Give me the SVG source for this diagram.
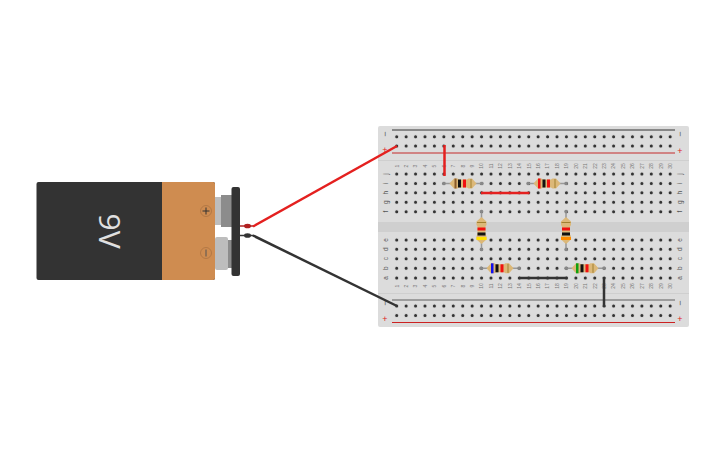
<svg xmlns="http://www.w3.org/2000/svg" width="725" height="453" viewBox="0 0 725 453">
<style>
.holes{stroke:#333;stroke-width:3;stroke-linecap:round;stroke-dasharray:0 9.43;fill:none}
.halo{stroke:#cfcfcf;stroke-width:4.6;stroke-linecap:round;stroke-dasharray:0 9.43;fill:none}
.num{font-family:"Liberation Sans",sans-serif;font-size:5px;fill:#777;text-anchor:middle}
.let{font-family:"Liberation Sans",sans-serif;font-size:6.5px;fill:#555;text-anchor:middle}
.sign{font-family:"Liberation Sans",sans-serif;font-size:9px;text-anchor:middle}
.lead{stroke:#999;stroke-width:1.5;fill:none}
.wr{stroke:#e4201f;stroke-width:2.5;fill:none}
.wk{stroke:#333;stroke-width:2.5;fill:none}
</style>
<defs>
<g id="body">
<line class="lead" x1="-19" y1="0" x2="19" y2="0"/>
<circle cx="-19" cy="0" r="1.7" fill="#888"/><circle cx="19" cy="0" r="1.7" fill="#888"/>
<path d="M-13.500 0L-9 -5H-5.500L-4 -4H4L5.500 -5H9L13.500 0L9 5H5.500L4 4H-4L-5.500 5H-9Z" fill="#dcb878"/>
</g>
<g id="row">
<line class="halo" x1="396.7" y1="0" x2="670.3" y2="0"/>
<line class="holes" x1="396.7" y1="0" x2="670.3" y2="0"/>
</g>
</defs>
<rect width="725" height="453" fill="#fff"/>

<g id="breadboard">
<rect x="378" y="126" width="311" height="201" rx="2" fill="#dcdcdc"/>
<rect x="378" y="222" width="311" height="10" fill="#cfcfcf"/>
<line x1="378" y1="160.5" x2="689" y2="160.5" stroke="#cfcfcf"/>
<line x1="378" y1="293.5" x2="689" y2="293.5" stroke="#cfcfcf"/>
<line x1="392" y1="130" x2="675" y2="130" stroke="#333" stroke-width="1"/>
<line x1="392" y1="153" x2="675" y2="153" stroke="#c66" stroke-width="1.5"/>
<line x1="392" y1="300" x2="675" y2="300" stroke="#888" stroke-width="1.5"/>
<line x1="392" y1="322.5" x2="675" y2="322.5" stroke="#c22" stroke-width="1"/>
<use href="#row" y="136.7"/><use href="#row" y="146"/>
<use href="#row" y="174"/><use href="#row" y="183.5"/><use href="#row" y="192.8"/><use href="#row" y="202.2"/><use href="#row" y="211.7"/>
<use href="#row" y="240"/><use href="#row" y="249.3"/><use href="#row" y="258.7"/><use href="#row" y="268.3"/><use href="#row" y="278"/>
<use href="#row" y="306"/><use href="#row" y="315.5"/>
<text class="sign" transform="translate(388,134) rotate(-90)" fill="#555">−</text>
<text class="sign" x="385" y="153" fill="#d22">+</text>
<text class="sign" transform="translate(683,134) rotate(-90)" fill="#555">−</text>
<text class="sign" x="680" y="154" fill="#d22">+</text>
<text class="sign" transform="translate(388,303) rotate(-90)" fill="#555">−</text>
<text class="sign" x="385" y="322" fill="#d22">+</text>
<text class="sign" transform="translate(683,303) rotate(-90)" fill="#555">−</text>
<text class="sign" x="680" y="322" fill="#d22">+</text>
<g id="letters-left">
<text class="let" transform="translate(388,174) rotate(-90)">j</text>
<text class="let" transform="translate(388,183.5) rotate(-90)">i</text>
<text class="let" transform="translate(388,192.8) rotate(-90)">h</text>
<text class="let" transform="translate(388,202.2) rotate(-90)">g</text>
<text class="let" transform="translate(388,211.7) rotate(-90)">f</text>
<text class="let" transform="translate(388,240) rotate(-90)">e</text>
<text class="let" transform="translate(388,249.3) rotate(-90)">d</text>
<text class="let" transform="translate(388,258.7) rotate(-90)">c</text>
<text class="let" transform="translate(388,268.3) rotate(-90)">b</text>
<text class="let" transform="translate(388,278) rotate(-90)">a</text>
</g>
<g id="letters-right">
<text class="let" transform="translate(682,174) rotate(-90)">j</text>
<text class="let" transform="translate(682,183.5) rotate(-90)">i</text>
<text class="let" transform="translate(682,192.8) rotate(-90)">h</text>
<text class="let" transform="translate(682,202.2) rotate(-90)">g</text>
<text class="let" transform="translate(682,211.7) rotate(-90)">f</text>
<text class="let" transform="translate(682,240) rotate(-90)">e</text>
<text class="let" transform="translate(682,249.3) rotate(-90)">d</text>
<text class="let" transform="translate(682,258.7) rotate(-90)">c</text>
<text class="let" transform="translate(682,268.3) rotate(-90)">b</text>
<text class="let" transform="translate(682,278) rotate(-90)">a</text>
</g>
<g id="numbers-top">
<text class="num" transform="translate(398.5,166) rotate(-90)">1</text>
<text class="num" transform="translate(407.9,166) rotate(-90)">2</text>
<text class="num" transform="translate(417.4,166) rotate(-90)">3</text>
<text class="num" transform="translate(426.8,166) rotate(-90)">4</text>
<text class="num" transform="translate(436.2,166) rotate(-90)">5</text>
<text class="num" transform="translate(445.7,166) rotate(-90)">6</text>
<text class="num" transform="translate(455.1,166) rotate(-90)">7</text>
<text class="num" transform="translate(464.5,166) rotate(-90)">8</text>
<text class="num" transform="translate(474,166) rotate(-90)">9</text>
<text class="num" transform="translate(483.4,166) rotate(-90)">10</text>
<text class="num" transform="translate(492.8,166) rotate(-90)">11</text>
<text class="num" transform="translate(502.2,166) rotate(-90)">12</text>
<text class="num" transform="translate(511.7,166) rotate(-90)">13</text>
<text class="num" transform="translate(521.1,166) rotate(-90)">14</text>
<text class="num" transform="translate(530.5,166) rotate(-90)">15</text>
<text class="num" transform="translate(540,166) rotate(-90)">16</text>
<text class="num" transform="translate(549.4,166) rotate(-90)">17</text>
<text class="num" transform="translate(558.8,166) rotate(-90)">18</text>
<text class="num" transform="translate(568.3,166) rotate(-90)">19</text>
<text class="num" transform="translate(577.7,166) rotate(-90)">20</text>
<text class="num" transform="translate(587.1,166) rotate(-90)">21</text>
<text class="num" transform="translate(596.5,166) rotate(-90)">22</text>
<text class="num" transform="translate(606,166) rotate(-90)">23</text>
<text class="num" transform="translate(615.4,166) rotate(-90)">24</text>
<text class="num" transform="translate(624.8,166) rotate(-90)">25</text>
<text class="num" transform="translate(634.3,166) rotate(-90)">26</text>
<text class="num" transform="translate(643.7,166) rotate(-90)">27</text>
<text class="num" transform="translate(653.1,166) rotate(-90)">28</text>
<text class="num" transform="translate(662.6,166) rotate(-90)">29</text>
<text class="num" transform="translate(672,166) rotate(-90)">30</text>
</g>
<g id="numbers-bottom">
<text class="num" transform="translate(398.5,286) rotate(-90)">1</text>
<text class="num" transform="translate(407.9,286) rotate(-90)">2</text>
<text class="num" transform="translate(417.4,286) rotate(-90)">3</text>
<text class="num" transform="translate(426.8,286) rotate(-90)">4</text>
<text class="num" transform="translate(436.2,286) rotate(-90)">5</text>
<text class="num" transform="translate(445.7,286) rotate(-90)">6</text>
<text class="num" transform="translate(455.1,286) rotate(-90)">7</text>
<text class="num" transform="translate(464.5,286) rotate(-90)">8</text>
<text class="num" transform="translate(474,286) rotate(-90)">9</text>
<text class="num" transform="translate(483.4,286) rotate(-90)">10</text>
<text class="num" transform="translate(492.8,286) rotate(-90)">11</text>
<text class="num" transform="translate(502.2,286) rotate(-90)">12</text>
<text class="num" transform="translate(511.7,286) rotate(-90)">13</text>
<text class="num" transform="translate(521.1,286) rotate(-90)">14</text>
<text class="num" transform="translate(530.5,286) rotate(-90)">15</text>
<text class="num" transform="translate(540,286) rotate(-90)">16</text>
<text class="num" transform="translate(549.4,286) rotate(-90)">17</text>
<text class="num" transform="translate(558.8,286) rotate(-90)">18</text>
<text class="num" transform="translate(568.3,286) rotate(-90)">19</text>
<text class="num" transform="translate(577.7,286) rotate(-90)">20</text>
<text class="num" transform="translate(587.1,286) rotate(-90)">21</text>
<text class="num" transform="translate(596.5,286) rotate(-90)">22</text>
<text class="num" transform="translate(606,286) rotate(-90)">23</text>
<text class="num" transform="translate(615.4,286) rotate(-90)">24</text>
<text class="num" transform="translate(624.8,286) rotate(-90)">25</text>
<text class="num" transform="translate(634.3,286) rotate(-90)">26</text>
<text class="num" transform="translate(643.7,286) rotate(-90)">27</text>
<text class="num" transform="translate(653.1,286) rotate(-90)">28</text>
<text class="num" transform="translate(662.6,286) rotate(-90)">29</text>
<text class="num" transform="translate(672,286) rotate(-90)">30</text>
</g>
</g>

<g id="battery">
<rect x="215" y="197" width="8" height="28" fill="#bdbdbd"/>
<rect x="221" y="195" width="11" height="32" fill="#8c8c8c"/>
<rect x="227" y="240" width="5" height="28" fill="#8c8c8c"/>
<rect x="215" y="237" width="13" height="33" rx="2" fill="#bdbdbd"/>
<rect x="36.500" y="182" width="178.500" height="98" rx="2" fill="#333"/>
<path d="M162 182H213a2 2 0 0 1 2 2V278a2 2 0 0 1 -2 2H162Z" fill="#cf8c50"/>
<text transform="translate(98.500,231) rotate(90)" font-family="'Open Sans','Liberation Sans',sans-serif" font-size="30" fill="#e0e0e0" text-anchor="middle">9V</text>
<circle cx="206" cy="211" r="5.500" fill="none" stroke="#a87040" stroke-width="0.700"/>
<circle cx="206" cy="253" r="5.500" fill="none" stroke="#a87040" stroke-width="0.700"/>
<path d="M202.500 211H209.500M206 207.500V214.500" stroke="#333" stroke-width="1" fill="none"/>
<path d="M206 249.500V256.500" stroke="#555" stroke-width="1" fill="none"/>
<rect x="231.500" y="187" width="8.500" height="89" rx="2" fill="#333"/>
<line x1="240" y1="226" x2="254" y2="226" stroke="#b02020" stroke-width="1.500"/>
<line x1="240" y1="235.500" x2="254" y2="235.500" stroke="#333" stroke-width="1.500"/>
<ellipse cx="247.500" cy="226" rx="3.500" ry="2.300" fill="#b02020"/>
<ellipse cx="247.500" cy="235.500" rx="3.500" ry="2.300" fill="#333"/>
</g>

<g id="connectors">
<line class="wr" x1="253" y1="226.500" x2="397" y2="146"/>
<line class="wk" x1="253" y1="235.500" x2="397" y2="306"/>
<line class="wr" x1="444.500" y1="145" x2="444.500" y2="176"/>
<line class="wr" x1="481" y1="193" x2="529.500" y2="193"/>
<line class="wk" x1="519" y1="278" x2="567.500" y2="278"/>
<line class="wk" x1="604" y1="277" x2="604" y2="307"/>
</g>

<g id="r1" transform="translate(463,183.500)">
<use href="#body"/>
<rect x="-8.500" y="-5" width="2" height="10" fill="#8a5a2a"/><rect x="-5" y="-4" width="3" height="8" fill="#111"/><rect x="0" y="-4" width="3" height="8" fill="#f01010"/><rect x="7.500" y="-4.500" width="1" height="9" fill="#a08030"/>
</g>
<g id="r2" transform="translate(547,183.500)">
<use href="#body"/>
<rect x="-9" y="-5" width="2.500" height="10" fill="#f01010"/><rect x="-4.500" y="-4" width="3" height="8" fill="#111"/><rect x="0" y="-4" width="3" height="8" fill="#f01010"/><rect x="7.500" y="-4.500" width="1" height="9" fill="#a08030"/>
</g>
<g id="r3" transform="translate(481.500,230.500) rotate(-90)">
<use href="#body"/>
<rect x="-9.500" y="-5" width="3" height="10" fill="#ffe000"/><rect x="-5" y="-4" width="3" height="8" fill="#111"/><rect x="0" y="-4" width="3" height="8" fill="#f01010"/><rect x="7.500" y="-4.500" width="1" height="9" fill="#a08030"/>
</g>
<g id="r4" transform="translate(566,230.500) rotate(-90)">
<use href="#body"/>
<rect x="-9.500" y="-5" width="3" height="10" fill="#ff8c00"/><rect x="-5" y="-4" width="3" height="8" fill="#111"/><rect x="0" y="-4" width="3" height="8" fill="#f01010"/><rect x="7.500" y="-4.500" width="1" height="9" fill="#a08030"/>
</g>
<g id="r5" transform="translate(500,268.300)">
<use href="#body"/>
<rect x="-9" y="-5" width="2.500" height="10" fill="#1010f0"/><rect x="-4.500" y="-4" width="3" height="8" fill="#111"/><rect x="0.500" y="-4" width="3" height="8" fill="#f01010"/><rect x="7.500" y="-4.500" width="1" height="9" fill="#a08030"/>
</g>
<g id="r6" transform="translate(585,268.300)">
<use href="#body"/>
<rect x="-9" y="-5" width="2.500" height="10" fill="#10a010"/><rect x="-4.500" y="-4" width="3" height="8" fill="#111"/><rect x="0.500" y="-4" width="3" height="8" fill="#f01010"/><rect x="7.500" y="-4.500" width="1" height="9" fill="#a08030"/>
</g>
</svg>
